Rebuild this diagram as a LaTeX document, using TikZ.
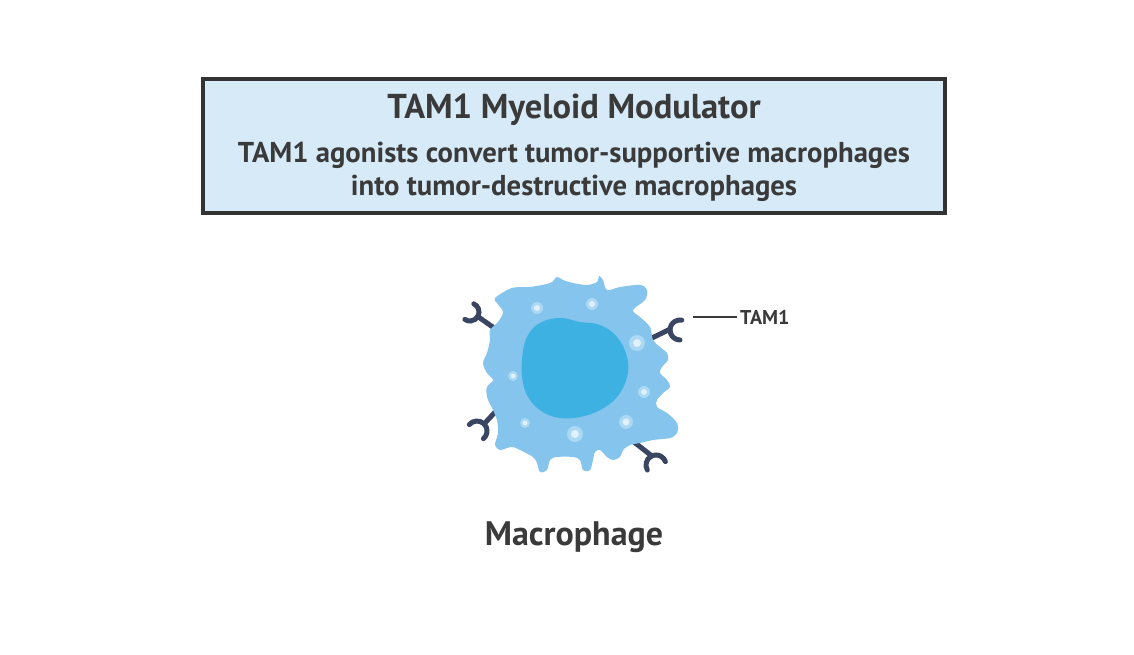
\documentclass[tikz,border=0pt]{standalone}
\usepackage{fontspec}
\setmainfont{PT Sans}
\usetikzlibrary{calc}

\definecolor{boxfill}{HTML}{D6EAF8}
\definecolor{boxline}{HTML}{333333}
\definecolor{inktext}{HTML}{3A3A3A}
\definecolor{membrane}{HTML}{85C4EC}
\definecolor{nucleus}{HTML}{3EB1E3}
\definecolor{vesout}{HTML}{ABD8F3}
\definecolor{vesin}{HTML}{E0F1FB}
\definecolor{recep}{HTML}{3A4562}

\tikzset{
  receptor/.style={draw=recep, line width=5pt, line cap=round},
  label/.style={text=inktext, font=\bfseries, inner sep=0pt}
}

% one receptor: stem start, cup centre, radius, opening angle
\newcommand\tamrec[4]{%
  \draw[receptor] (#1) -- ($(#2)+(#4+180:#3)$);
  \draw[receptor] ($(#2)+(#4+85:#3)$) arc[start angle=#4+85, delta angle=190, radius=#3];
}

\begin{document}
\begin{tikzpicture}[x=1pt, y=-1pt]
        \useasboundingbox[fill=white] (0,0) rectangle (1134,654);

        % title box
        \draw[boxline, fill=boxfill, line width=4pt] (203,79) rectangle (945,213);
        \node[label, font=\fontsize{34.5}{40}\selectfont\bfseries] (title) at (574,110) {TAM1 Myeloid Modulator};
        \node[label, font=\fontsize{28.7}{33}\selectfont\bfseries, align=center] (sub) at (574,171.5)
            {TAM1 agonists convert tumor-supportive macrophages\\into tumor-destructive macrophages};

        % receptors
        \tamrec{497,330}{470,312}{9}{210}
        \tamrec{652,338}{680,330}{10}{5}
        \tamrec{497,410}{477,431}{10}{135}
        \tamrec{634,442}{656,465}{10}{65}

        % cell body
        \fill[membrane] plot[smooth cycle, tension=0.55] coordinates {
            (495,298) (512,288) (530,287) (550,283) (557,277) (563,280) (573,283) (587,285)
            (597,282) (599,276) (603,280) (607,290) (620,287) (640,285) (647,290) (645,300)
            (633,310) (640,317) (650,327) (653,340) (660,347) (667,353) (668,360) (662,367)
            (660,373) (667,380) (670,387) (663,393) (657,400) (657,407) (667,413) (677,423)
            (677,433) (670,438) (653,440) (640,443) (630,445) (623,450) (620,457) (613,460)
            (607,457) (600,450) (595,452) (593,460) (590,470) (583,470) (580,460) (573,457)
            (557,457) (550,460) (547,470) (540,472) (537,463) (533,457) (520,450) (513,447)
            (507,448) (500,450) (495,445) (498,433) (497,420) (493,410) (487,397) (487,387)
            (493,380) (487,373) (483,363) (487,353) (490,340) (490,330) (498,322) (503,312)
            (497,303)};
        \fill[nucleus] plot[smooth cycle, tension=0.7] coordinates {
            (522,360) (527,337) (540,323) (560,318) (580,322) (600,325) (617,337) (627,357)
            (627,377) (617,397) (600,410) (580,417) (560,418) (543,412) (530,400) (523,383)};

        % vesicles
        \foreach \x/\y/\r in {537/308/6, 592/304/6, 637/343/8, 513/376/5,
                               644/392/6, 525/423/5, 575/434/8, 626/422/7} {
            \fill[vesout] (\x,\y) circle[radius=\r];
            \fill[vesin] (\x,\y) circle[radius=0.5*\r];
        }

        % labels
        \node[label, font=\fontsize{20}{24}\selectfont\bfseries, anchor=west] (tam) at (740,317) {TAM1};
        \coordinate (tamtip) at (693,317);
        \draw[inktext, line width=1.6pt] (tamtip) -- ([xshift=-3pt]tam.west);
        \node[label, font=\fontsize{34}{40}\selectfont\bfseries] (mac) at (574,537) {Macrophage};
    \end{tikzpicture}
\end{document}
